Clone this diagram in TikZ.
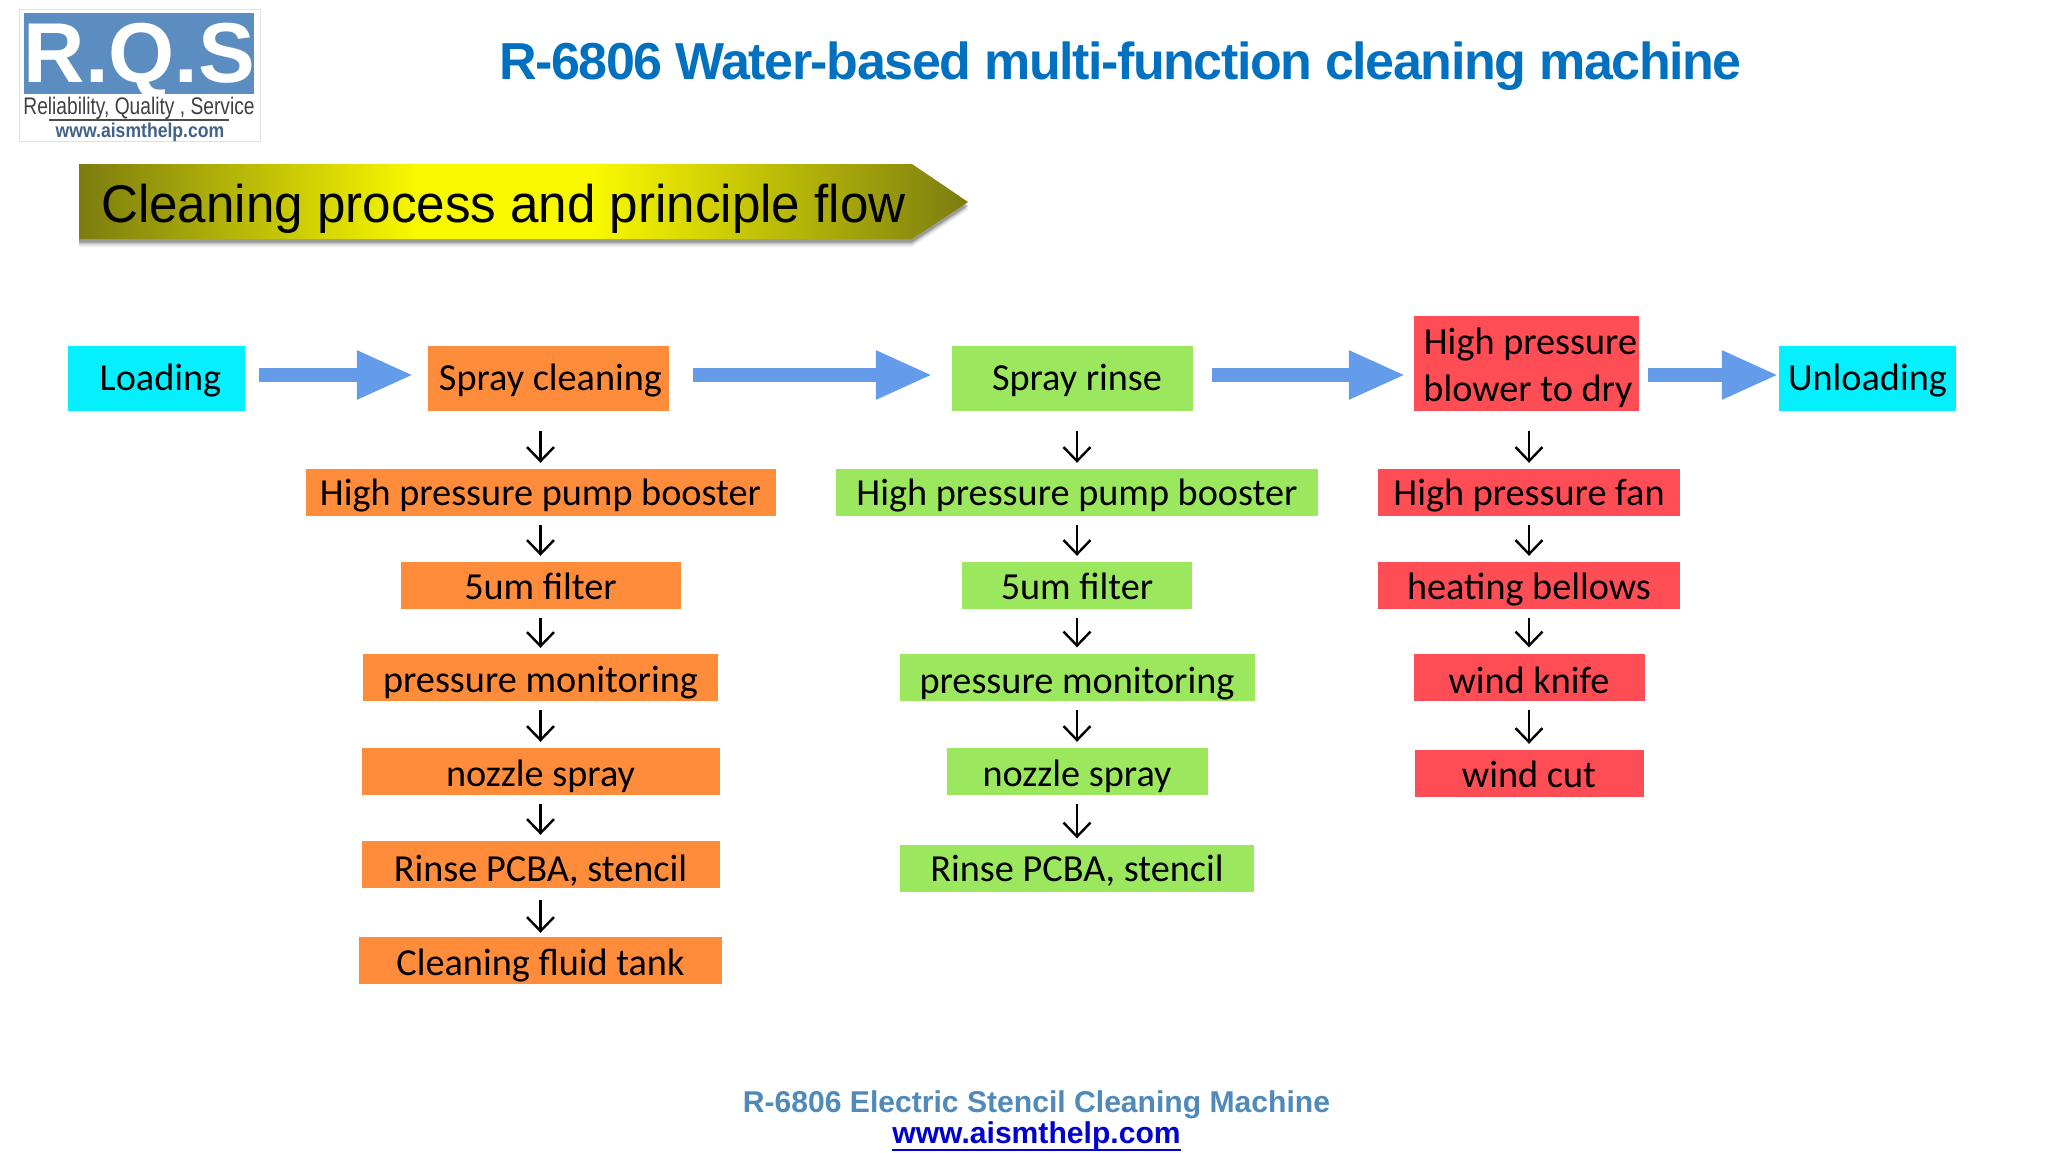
\documentclass[tikz,border=0pt]{standalone}
\usepackage{fontspec}
\setmainfont{Carlito}
\newfontfamily\hvb[Ligatures=TeX]{Liberation Sans}
\newfontfamily\hvbtight[LetterSpace=-2.75]{Liberation Sans}
\usetikzlibrary{arrows.meta,calc}
\definecolor{orangeC}{HTML}{FF8C3A}
\definecolor{greenC}{HTML}{9BE85E}
\definecolor{redC}{HTML}{FF4D55}
\definecolor{cyanC}{HTML}{05F0FF}
\definecolor{arrowC}{HTML}{659CEA}
\definecolor{titleC}{HTML}{0070C0}
\definecolor{footC}{HTML}{4F8ABA}
\definecolor{linkC}{HTML}{0000D0}
\definecolor{logoC}{HTML}{5B8DC1}
\definecolor{oliveC}{HTML}{7C7C10}
\definecolor{yelC}{HTML}{F8F800}
\pgfdeclarehorizontalshading{banshade}{100bp}{color(0bp)=(oliveC); color(25bp)=(oliveC); color(44bp)=(yelC); color(54bp)=(yelC); color(75bp)=(oliveC); color(100bp)=(oliveC)}
\tikzset{
  box/.style={fill=#1,inner sep=0pt,anchor=center,text=black,align=center,
    font=\fontsize{38.25}{47}\selectfont,text height=31pt,text depth=6pt,minimum height=47pt},
  topbox/.style={box=#1,minimum height=65pt,text height=30pt,text depth=7pt},
  flow/.style={draw=arrowC,line width=14.6pt,-{Triangle[length=57pt,width=45pt]},shorten <=14pt,shorten >=14pt},
  stepline/.style={draw=black,line width=2.4pt,-{Straight Barb[length=14pt,width=27pt,line width=2.4pt]},shorten <=9pt,shorten >=6pt},
  txt/.style={inner sep=0pt,anchor=center},
}
\begin{document}
\begin{tikzpicture}[x=1pt,y=-1pt]
\useasboundingbox (0,0) rectangle (2048,1152);
\fill[white] (0,0) rectangle (2048,1152);
% logo
\node[draw=black!12,line width=1pt,fill=white,minimum width=241pt,minimum height=132pt,inner sep=0pt,anchor=center] (logo) at (139.5,75) {};
\fill[logoC] (24,13) rectangle (254,94);
\node[inner sep=0pt,anchor=base,text=white,text height=62pt,text depth=0pt,font=\hvb\bfseries\fontsize{85}{85}\selectfont] (rqs) at (139.5,82) {R.Q.S};
\node[txt,text=black!75,xscale=.8,font=\hvb\fontsize{24}{24}\selectfont] (rel) at (139,108) {Reliability, Quality , Service};
\draw[black!70,line width=1.2pt] (49,120) -- (229,120);
\node[txt,text=logoC!70!black,xscale=.88,font=\hvb\bfseries\fontsize{20}{20}\selectfont] (web) at (140,132.5) {www.aismthelp.com};
% title
\node[txt,text=titleC,font=\hvbtight\bfseries\fontsize{52}{52}\selectfont] (title) at (1120.5,66) {R-6806 Water-based multi-function cleaning machine};
% banner shadow
\foreach \o/\a in {8/.06,6.5/.08,5/.12,3.5/.2}{
  \fill[black,opacity=\a] (79,164+\o) -- (912,164+\o) -- (968,202+\o) -- (912,239+\o) -- (79,239+\o) -- cycle;
}
\shade[shading=banshade]
  (79,164) -- (912,164) -- (968,202) -- (912,239) -- (79,239) -- cycle;
\node[txt,anchor=west,text=black,font=\hvb\fontsize{53}{53}\selectfont,xscale=.965] (bantext) at (101,209) {Cleaning process and principle flow};
% top row
\node[topbox=cyanC,minimum width=177pt] (load) at (156.5,378.5) {\hspace*{8pt}Loading};
\node[topbox=orangeC,minimum width=241pt] (spray) at (548.5,378.5) {\hspace*{4pt}Spray cleaning};
\node[topbox=greenC,minimum width=241pt] (rinse) at (1072.5,378.5) {\hspace*{9pt}Spray rinse};
\node[box=redC,minimum width=225pt,minimum height=95pt,text height=,text depth=] (blower) at (1526.5,363.5) {\hspace*{8pt}\rule{0pt}{35pt}High pressure\\\hspace*{3pt}blower to dry};
\node[topbox=cyanC,minimum width=177pt] (unload) at (1867.5,378.5) {Unloading};
\coordinate (rowy) at (0,375);
\draw[flow] (load.east |- rowy) -- (spray.west |- rowy);
\draw[flow,shorten <=24pt,shorten >=19pt] (spray.east |- rowy) -- (rinse.west |- rowy);
\draw[flow,shorten <=19pt,shorten >=8pt] (rinse.east |- rowy) -- (blower.west |- rowy);
\draw[flow,shorten <=9pt,shorten >=0pt] (blower.east |- rowy) -- (unload.west |- rowy);
% orange column
\node[box=orangeC,minimum width=470pt] (o1) at (540.5,492.5) {High pressure pump booster};
\node[box=orangeC,minimum width=280pt,text height=33.6pt] (o2) at (540.5,585.5) {5um filter};
\node[box=orangeC,minimum width=355pt,text height=36.2pt] (o3) at (540.5,677.5) {pressure monitoring};
\node[box=orangeC,minimum width=358pt,text height=36.2pt] (o4) at (540.5,771.5) {nozzle spray};
\node[box=orangeC,minimum width=358pt,text height=39pt] (o5) at (540.5,864.5) {Rinse PCBA, stencil};
\node[box=orangeC,minimum width=363pt,text height=36.2pt] (o6) at (540.5,960) {Cleaning fluid tank};
% green column
\node[box=greenC,minimum width=482pt] (g1) at (1077,492.5) {High pressure pump booster};
\node[box=greenC,minimum width=230pt,text height=33.6pt] (g2) at (1077,585.5) {5um filter};
\node[box=greenC,minimum width=355pt,text height=38.8pt] (g3) at (1077,677) {pressure monitoring};
\node[box=greenC,minimum width=261pt,text height=36.2pt] (g4) at (1077,771.5) {nozzle spray};
\node[box=greenC,minimum width=354pt,text height=33.6pt] (g5) at (1077,868) {Rinse PCBA, stencil};
% red column
\node[box=redC,minimum width=302pt] (r1) at (1529,492.5) {High pressure fan};
\node[box=redC,minimum width=302pt,text height=33.6pt] (r2) at (1529,585.5) {heating bellows};
\node[box=redC,minimum width=231pt,text height=38.8pt] (r3) at (1529,677) {wind knife};
\node[box=redC,minimum width=229pt,text height=33.6pt] (r4) at (1529,773.5) {wind cut};
% small arrows
\draw[stepline,shorten <=20pt] (o1.north |- spray.south) -- (o1.north);
\draw[stepline,shorten <=20pt] (g1.north |- rinse.south) -- (g1.north);
\draw[stepline,shorten <=20pt] (r1.north |- blower.south) -- (r1.north);
\foreach \a/\b in {o1/o2,o2/o3,o3/o4,o4/o5,g1/g2,g2/g3,g3/g4,g4/g5,r1/r2,r2/r3,r3/r4}{
  \draw[stepline] (\a.south) -- (\b.north);
}
\draw[stepline,shorten <=12pt,shorten >=3.5pt] (o5.south) -- (o6.north);
% footer
\node[txt,text=footC,font=\hvb\bfseries\fontsize{30.1}{30.1}\selectfont] (foot) at (1036.5,1105) {R-6806 Electric Stencil Cleaning Machine};
\node[txt,text=linkC,font=\hvb\bfseries\fontsize{30.1}{30.1}\selectfont] (link) at (1036.5,1136) {www.aismthelp.com};
\draw[linkC,line width=2pt] (link.west |- 0,1150) -- (link.east |- 0,1150);
\end{tikzpicture}
\end{document}
